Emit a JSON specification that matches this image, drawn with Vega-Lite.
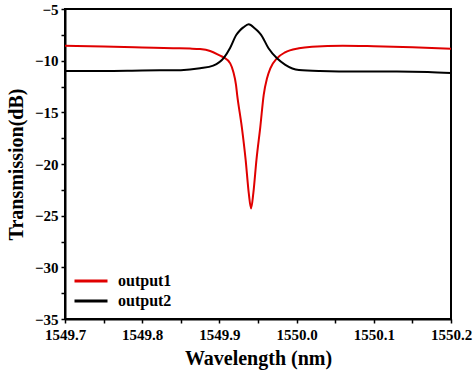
{
  "$schema": "https://vega.github.io/schema/vega-lite/v6.json",
  "width": 386,
  "height": 310,
  "autosize": {"type": "none"},
  "padding": {"left": 65, "top": 9, "right": 23, "bottom": 55},
  "background": "white",
  "data": {
    "values": [
      {"s": "output1", "x": 1549.700, "y": -8.55},
      {"s": "output1", "x": 1549.750, "y": -8.62},
      {"s": "output1", "x": 1549.800, "y": -8.72},
      {"s": "output1", "x": 1549.840, "y": -8.80},
      {"s": "output1", "x": 1549.862, "y": -8.83},
      {"s": "output1", "x": 1549.875, "y": -8.88},
      {"s": "output1", "x": 1549.888, "y": -9.06},
      {"s": "output1", "x": 1549.901, "y": -9.52},
      {"s": "output1", "x": 1549.906, "y": -9.71},
      {"s": "output1", "x": 1549.914, "y": -10.26},
      {"s": "output1", "x": 1549.918, "y": -11.07},
      {"s": "output1", "x": 1549.9215, "y": -12.35},
      {"s": "output1", "x": 1549.923, "y": -13.3},
      {"s": "output1", "x": 1549.929, "y": -16.4},
      {"s": "output1", "x": 1549.934, "y": -19.6},
      {"s": "output1", "x": 1549.938, "y": -22.8},
      {"s": "output1", "x": 1549.941, "y": -24.3},
      {"s": "output1", "x": 1549.944, "y": -22.8},
      {"s": "output1", "x": 1549.948, "y": -19.6},
      {"s": "output1", "x": 1549.953, "y": -16.4},
      {"s": "output1", "x": 1549.9574, "y": -13.3},
      {"s": "output1", "x": 1549.9617, "y": -11.7},
      {"s": "output1", "x": 1549.966, "y": -10.74},
      {"s": "output1", "x": 1549.9746, "y": -9.77},
      {"s": "output1", "x": 1549.985, "y": -9.2},
      {"s": "output1", "x": 1550.003, "y": -8.8},
      {"s": "output1", "x": 1550.020, "y": -8.65},
      {"s": "output1", "x": 1550.060, "y": -8.55},
      {"s": "output1", "x": 1550.100, "y": -8.60},
      {"s": "output1", "x": 1550.150, "y": -8.70},
      {"s": "output1", "x": 1550.200, "y": -8.85},
      {"s": "output2", "x": 1549.700, "y": -11.0},
      {"s": "output2", "x": 1549.750, "y": -11.0},
      {"s": "output2", "x": 1549.800, "y": -10.95},
      {"s": "output2", "x": 1549.850, "y": -10.92},
      {"s": "output2", "x": 1549.875, "y": -10.74},
      {"s": "output2", "x": 1549.892, "y": -10.48},
      {"s": "output2", "x": 1549.906, "y": -9.71},
      {"s": "output2", "x": 1549.914, "y": -8.75},
      {"s": "output2", "x": 1549.922, "y": -7.5},
      {"s": "output2", "x": 1549.9265, "y": -7.08},
      {"s": "output2", "x": 1549.931, "y": -6.78},
      {"s": "output2", "x": 1549.938, "y": -6.48},
      {"s": "output2", "x": 1549.946, "y": -6.88},
      {"s": "output2", "x": 1549.950, "y": -7.15},
      {"s": "output2", "x": 1549.954, "y": -7.5},
      {"s": "output2", "x": 1549.9636, "y": -8.8},
      {"s": "output2", "x": 1549.9746, "y": -9.77},
      {"s": "output2", "x": 1549.9854, "y": -10.4},
      {"s": "output2", "x": 1550.003, "y": -10.9},
      {"s": "output2", "x": 1550.030, "y": -11.0},
      {"s": "output2", "x": 1550.080, "y": -11.05},
      {"s": "output2", "x": 1550.130, "y": -11.05},
      {"s": "output2", "x": 1550.170, "y": -11.1},
      {"s": "output2", "x": 1550.200, "y": -11.2}
    ]
  },
  "mark": {"type": "line", "strokeWidth": 2, "interpolate": "monotone", "clip": true},
  "encoding": {
    "x": {
      "field": "x", "type": "quantitative",
      "scale": {"domain": [1549.7, 1550.2], "nice": false, "zero": false},
      "axis": {
        "title": "Wavelength (nm)",
        "values": [1549.7, 1549.75, 1549.8, 1549.85, 1549.9, 1549.95, 1550.0, 1550.05, 1550.1, 1550.15, 1550.2],
        "labelExpr": "abs(datum.value*10 - round(datum.value*10)) < 0.01 ? format(datum.value, '.1f') : ''",
        "labelFlush": false,
        "labelOverlap": false,
        "labelPadding": 4,
        "titlePadding": 6
      }
    },
    "y": {
      "field": "y", "type": "quantitative",
      "scale": {"domain": [-35, -5], "nice": false, "zero": false},
      "axis": {
        "title": "Transmission(dB)",
        "values": [-35, -32.5, -30, -27.5, -25, -22.5, -20, -17.5, -15, -12.5, -10, -7.5, -5],
        "labelExpr": "datum.value % 5 == 0 ? format(datum.value, 'd') : ''",
        "labelOverlap": false,
        "labelFlush": false,
        "labelPadding": 3,
        "titlePadding": 8
      }
    },
    "color": {
      "field": "s", "type": "nominal",
      "scale": {"domain": ["output1", "output2"], "range": ["#e00000", "#000000"]},
      "legend": {
        "title": null,
        "orient": "bottom-left",
        "offset": 8,
        "symbolType": "stroke",
        "symbolSize": 1089,
        "symbolStrokeWidth": 3,
        "clipHeight": 20,
        "labelFont": "Liberation Serif",
        "labelFontWeight": "bold",
        "labelFontSize": 16,
        "labelColor": "black",
        "labelOffset": 9,
        "padding": 0,
        "rowPadding": 0
      }
    }
  },
  "config": {
    "view": {"stroke": "black", "strokeWidth": 2},
    "axis": {
      "grid": false,
      "domainColor": "black",
      "domainWidth": 2,
      "tickColor": "black",
      "tickWidth": 1.5,
      "tickSize": 4,
      "labelFont": "Liberation Serif",
      "labelFontWeight": "bold",
      "labelFontSize": 15,
      "labelColor": "black",
      "titleFont": "Liberation Serif",
      "titleFontWeight": "bold",
      "titleFontSize": 20,
      "titleColor": "black"
    }
  }
}
